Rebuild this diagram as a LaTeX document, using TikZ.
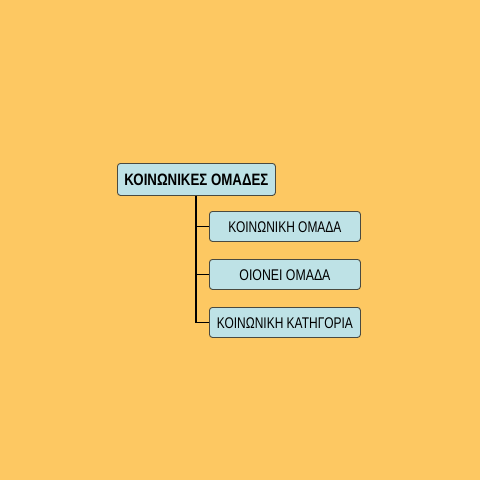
\documentclass[tikz,border=0pt]{standalone}
\usepackage{fontspec}
\setmainfont{Liberation Sans}
\usepackage{graphicx}
\definecolor{bg}{HTML}{FDC862}
\definecolor{boxfill}{HTML}{BEE2E6}
\definecolor{boxline}{HTML}{4A4A40}
\begin{document}
\begin{tikzpicture}[x=1pt,y=-1pt,
  box/.style={draw=boxline,line width=0.9pt,fill=boxfill,rounded corners=3pt,inner sep=0pt,anchor=north west,text depth=0pt},
  conn/.style={draw=black,line width=1.8pt}]
\fill[bg] (0,0) rectangle (480,480);
\useasboundingbox (0,0) rectangle (480,480);
\node[box,minimum width=158pt,minimum height=32pt] (root) at (117,163)
  {\raisebox{-0.8pt}{\resizebox{144pt}{11.5pt}{\bfseries ΚΟΙΝΩΝΙΚΕΣ ΟΜΑΔΕΣ}}};
\node[box,minimum width=151pt,minimum height=30pt] (c1) at (209,211)
  {\raisebox{-1pt}{\resizebox{113pt}{10.8pt}{ΚΟΙΝΩΝΙΚΗ ΟΜΑΔΑ}}};
\node[box,minimum width=151pt,minimum height=30pt] (c2) at (209,259)
  {\raisebox{-1pt}{\resizebox{91pt}{10.8pt}{ΟΙΟΝΕΙ ΟΜΑΔΑ}}};
\node[box,minimum width=151pt,minimum height=30pt] (c3) at (209,307)
  {\raisebox{-1pt}{\resizebox{136pt}{10.8pt}{ΚΟΙΝΩΝΙΚΗ ΚΑΤΗΓΟΡΙΑ}}};
\coordinate (top) at (196,0);
\draw[conn] (root.south -| top) |- (c3.west);
\draw[conn] (root.south -| top) |- (c1.west);
\draw[conn] (root.south -| top) |- (c2.west);
\end{tikzpicture}
\end{document}
